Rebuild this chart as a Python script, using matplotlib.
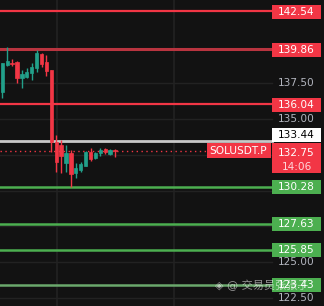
import numpy as np
import matplotlib.pyplot as plt
from matplotlib.patches import Rectangle

# candle data
opens = [136.89, 138.78, 138.90, 138.99, 137.87, 137.94, 138.22, 138.57, 139.55, 138.99, 138.43, 133.42,
         133.20, 131.95, 132.63, 131.23, 131.44, 131.72, 132.72, 132.28, 132.60, 132.90, 132.56, 132.84]
closes = [138.92, 139.06, 138.85, 137.87, 138.15, 138.29, 138.64, 139.62, 138.85, 138.36, 133.40, 132.02,
          132.40, 132.65, 131.16, 131.58, 131.86, 132.72, 132.20, 132.63, 132.84, 132.70, 132.84, 132.75]
highs = [138.95, 140.06, 139.20, 139.06, 138.43, 138.57, 138.92, 139.83, 139.60, 139.48, 138.45, 133.88,
         133.50, 133.19, 132.84, 131.93, 132.00, 132.77, 132.97, 132.72, 132.98, 133.00, 132.90, 132.87]
lows = [136.47, 138.71, 138.70, 137.52, 137.17, 137.87, 137.73, 138.29, 138.64, 138.01, 132.70, 131.32,
        131.20, 131.32, 130.25, 130.88, 131.30, 131.70, 132.10, 132.20, 132.42, 132.56, 132.50, 132.35]

resist = [142.54, 139.86, 136.04]
support = [130.28, 127.63, 125.85, 123.43]
mark_price = 133.44
last_price = 132.75
last_time = "14:06"
symbol = "SOLUSDT.P"
axis_ticks = [137.50, 135.00, 125.00, 122.50]
grid_levels = [137.5, 135.0, 132.5, 130.0, 127.5, 125.0, 122.5]

BG = "#121212"
RED = "#f23645"
GREEN = "#4caf50"
UP = "#22a08a"
GRID = "#222222"
TXT = "#b2b5be"

W, H = 324, 306
fig = plt.figure(figsize=(W / 100, H / 100), dpi=100, facecolor=BG)
ax = fig.add_axes([0, 0, 1, 1], facecolor=BG)
ax.set_xlim(-2.3 / 4.9, (W - 2.3) / 4.9)
ax.set_ylim(121.93, 143.32)
ax.axis("off")

pane = 272 / W  # chart pane right edge in axes fraction
upp = (143.32 - 121.93) / H  # price units per pixel

for g in grid_levels:
    ax.axhline(g, xmax=pane, color=GRID, lw=1, zorder=0)
for vx in [11.2, 35.0]:
    ax.axvline(vx, color=GRID, lw=1.2, zorder=0)

# candles
for i, (o, c, h, l) in enumerate(zip(opens, closes, highs, lows)):
    col = UP if c >= o else RED
    ax.vlines(i, l, h, color=col, lw=1, zorder=3)
    lo, hi = min(o, c), max(o, c)
    ax.add_patch(Rectangle((i - 0.33, lo), 0.66, max(hi - lo, 0.05), facecolor=col,
                           edgecolor=col, lw=0.5, zorder=4))

# level lines
for r in resist:
    if r == 139.86:
        ax.axhline(r, xmax=pane, color="#b8343f", lw=2.2, zorder=2)
    else:
        ax.axhline(r, xmax=pane, color=RED, lw=1.6, zorder=2)
for s in support:
    col = "#6aa86c" if s == 123.43 else GREEN
    ax.axhline(s, xmax=pane, color=col, lw=1.8, zorder=2)
ax.axhline(mark_price, xmax=pane, color="#c8c8c8", lw=2, zorder=2)
ax.axhline(last_price, xmax=pane, color=RED, lw=1, ls=(0, (1, 2.5)), zorder=2)

tr = ax.get_yaxis_transform()
bx0, bw = 272 / W, 49 / W
fs = 7.6


def tag(y, text, face, color="white", h=14):
    ax.add_patch(Rectangle((bx0, y - h / 2 * upp), bw, h * upp, transform=tr,
                           facecolor=face, edgecolor="none", zorder=6, clip_on=False))
    ax.text(bx0 + bw / 2, y, text, transform=tr, ha="center", va="center",
            color=color, fontsize=fs, zorder=7)


for t in axis_ticks:
    ax.text(bx0 + bw / 2, t, f"{t:.2f}", transform=tr, ha="center", va="center",
            color=TXT, fontsize=fs, zorder=5)

for r in resist:
    tag(r - 0.5 * upp, f"{r:.2f}", RED)
for s in support:
    tag(s, f"{s:.2f}", GREEN)
tag(mark_price + 6 * upp, f"{mark_price:.2f}", "white", color="black")

# last price box (two lines) + symbol tag
top = last_price + 8 * upp
ax.add_patch(Rectangle((bx0, top - 30 * upp), bw, 30 * upp, transform=tr,
                       facecolor=RED, edgecolor="none", zorder=6))
ax.text(bx0 + bw / 2, last_price - 1.5 * upp, f"{last_price:.2f}", transform=tr,
        ha="center", va="center", color="white", fontsize=fs, zorder=7)
ax.text(bx0 + bw / 2, last_price - 15.5 * upp, last_time, transform=tr,
        ha="center", va="center", color="#ffd6da", fontsize=fs, zorder=7)
ax.add_patch(Rectangle((206.5 / W, top - 15 * upp), 64 / W, 15 * upp, transform=tr,
                       facecolor=RED, edgecolor="none", zorder=6))
ax.text(238.5 / W, top - 7.5 * upp, symbol, transform=tr, ha="center", va="center",
        color="white", fontsize=fs, zorder=7)

# watermark
ax.text(215 / W, 123.43 - 1.2 * upp, "◈ @ 交易员张张子", transform=tr, ha="left", va="center",
        color="white", alpha=0.55, fontsize=8, zorder=8,
        family=["DejaVu Sans", "Noto Sans CJK SC"])

fig.savefig("out.png", dpi=100, facecolor=BG)
